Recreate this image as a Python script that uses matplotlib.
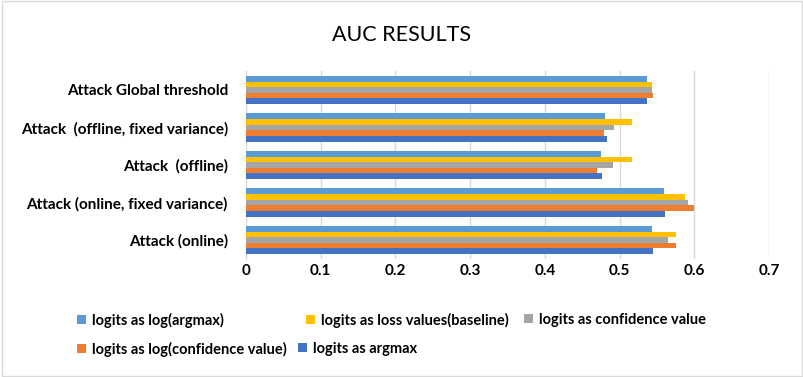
import matplotlib.pyplot as plt
import numpy as np
from matplotlib.patches import Rectangle

plt.rcParams['font.family'] = ['Lato', 'DejaVu Sans']

# categories bottom -> top
categories = ["Attack (online)", "Attack (online, fixed variance)", "Attack  (offline)",
              "Attack  (offline, fixed variance)", "Attack Global threshold"]

# series, drawn top -> bottom inside each group
series_names = ["logits as log(argmax)", "logits as loss values(baseline)",
                "logits as confidence value", "logits as log(confidence value)",
                "logits as argmax"]
log_argmax = [0.543, 0.559, 0.475, 0.481, 0.537]
loss_baseline = [0.576, 0.587, 0.516, 0.517, 0.544]
confidence = [0.565, 0.591, 0.491, 0.492, 0.543]
log_confidence = [0.575, 0.599, 0.470, 0.479, 0.545]
argmax = [0.545, 0.561, 0.477, 0.483, 0.537]
series_values = [log_argmax, loss_baseline, confidence, log_confidence, argmax]
colors = ["#5B9BD5", "#FFC000", "#A5A5A5", "#ED7D31", "#4472C4"]

xticks = [0, 0.1, 0.2, 0.3, 0.4, 0.5, 0.6, 0.7]

fig = plt.figure(figsize=(8.04, 3.77), dpi=100)
ax = fig.add_axes([246/804, 1-258.75/377, (769-246)/804, 187.5/377])

y = np.arange(len(categories))
h = 0.15
bars = []
for j, (vals, c) in enumerate(zip(series_values, colors)):
    b = ax.barh(y + (2 - j) * h, vals, height=h, color=c, zorder=3)
    bars.append(b)

ax.set_xlim(0, 0.7)
ax.set_ylim(-0.5, 4.5)
ax.set_xticks(xticks)
ax.set_xticklabels([f"{t:g}" for t in xticks], fontsize=11, fontweight='bold')
ax.set_yticks(y)
ax.set_yticklabels(categories, fontsize=11, fontweight='bold')
ax.tick_params(axis='both', length=0)
ax.tick_params(axis='y', pad=13)
ax.tick_params(axis='x', pad=4)
ax.grid(axis='x', color='#D9D9D9', linewidth=1, zorder=0)
for s in ['top', 'right', 'bottom']:
    ax.spines[s].set_visible(False)
ax.spines['left'].set_color('#D9D9D9')

fig.text(402/804, 1-35/377, "AUC RESULTS", ha='center', va='center', fontsize=15.5)

leg_pos = [(77, 320), (306, 320), (524, 320), (77, 349), (298, 349)]
for b, name, (px, py) in zip(bars, series_names, leg_pos):
    fig.legend([b], [name], loc='center left', bbox_to_anchor=(px/804, 1-py/377),
               frameon=False, handlelength=0.6, handleheight=0.6, handletextpad=0.4,
               borderpad=0, borderaxespad=0, prop={'size': 10.5, 'weight': 'bold'})

fig.patches.append(Rectangle((0.002, 0.003), 0.996, 0.994, transform=fig.transFigure,
                             fill=False, edgecolor='#D9D9D9', linewidth=1))

fig.savefig("out.png", dpi=100)
